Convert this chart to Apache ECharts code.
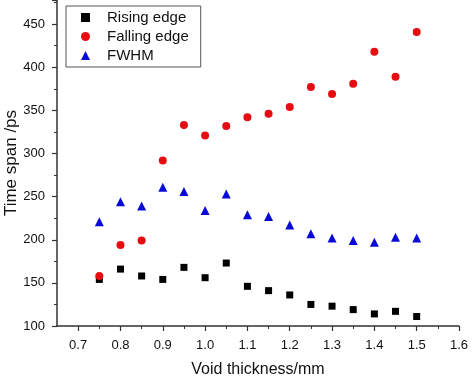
<!DOCTYPE html>
<html>
<head>
    <meta charset="utf-8" />
    <title>Time span vs void thickness</title>
    <script src="https://cdn.jsdelivr.net/npm/echarts@6/dist/echarts.min.js"></script>
    <style>
        body { margin: 0; background: #fff; }
        #main { width: 474px; height: 377px; }
    </style>
</head>
<body>
<div id="main"></div>
<script type="text/javascript">
    // void thickness (mm)
    var thickness = [0.75, 0.8, 0.85, 0.9, 0.95, 1.0, 1.05, 1.1, 1.15, 1.2, 1.25, 1.3, 1.35, 1.4, 1.45, 1.5];
    var risingEdge = [154, 166, 158, 154, 168, 156, 173, 146, 141, 136, 125, 123, 119, 114, 117, 111];
    var fallingEdge = [158, 194, 199, 292, 333, 321, 332, 342, 346, 354, 377, 369, 381, 418, 389, 441];
    var fwhm = [221, 244, 239, 261, 256, 234, 253, 229, 227, 217, 207, 202, 199, 197, 203, 202];
    var xTicks = [0.7, 0.8, 0.9, 1.0, 1.1, 1.2, 1.3, 1.4, 1.5, 1.6];
    var xMinorTicks = [0.75, 0.85, 0.95, 1.05, 1.15, 1.25, 1.35, 1.45, 1.55];

    function pairs(vals) {
        return thickness.map(function (x, i) { return [x, vals[i]]; });
    }

    var myChart = echarts.init(document.getElementById('main'));
    var font = 'Liberation Sans, Arial, sans-serif';
    var axisColor = '#333';

    var option = {
        backgroundColor: '#fff',
        animation: false,
        textStyle: { fontFamily: font },
        grid: { left: 57, right: 15, top: 0, bottom: 51, containLabel: false, outerBoundsMode: 'none' },
        legend: {
            orient: 'vertical',
            left: 66,
            top: 6,
            padding: [4, 12, 4, 15],
            itemGap: 4,
            itemWidth: 9,
            itemHeight: 9,
            borderColor: '#555',
            borderWidth: 1,
            textStyle: { fontSize: 15, color: '#111', lineHeight: 15, padding: [0, 0, 0, 12] },
            data: ['Rising edge', 'Falling edge', 'FWHM']
        },
        xAxis: [
            {
                type: 'value',
                min: 0.65,
                max: 1.6,
                name: 'Void thickness/mm',
                nameLocation: 'middle',
                nameGap: 36,
                nameTextStyle: { fontSize: 16, color: '#111' },
                splitLine: { show: false },
                axisLine: { lineStyle: { color: axisColor, width: 1.5 } },
                axisTick: { customValues: xTicks, length: 5, lineStyle: { color: axisColor, width: 1.2 } },
                axisLabel: {
                    customValues: xTicks,
                    fontSize: 13,
                    color: '#111',
                    margin: 13,
                    formatter: function (v) { return v.toFixed(1); }
                }
            },
            {
                type: 'value',
                min: 0.65,
                max: 1.6,
                position: 'bottom',
                splitLine: { show: false },
                axisLine: { show: false },
                axisTick: { customValues: xMinorTicks, length: 3, lineStyle: { color: axisColor, width: 1 } },
                axisLabel: { show: false }
            }
        ],
        yAxis: {
            type: 'value',
            min: 100,
            max: 478,
            interval: 50,
            name: 'Time span /ps',
            nameLocation: 'middle',
            nameGap: 37,
            nameMoveOverlap: false,
            nameTextStyle: { fontSize: 17, color: '#111' },
            splitLine: { show: false },
            axisLine: { show: true, lineStyle: { color: axisColor, width: 1.5 } },
            axisTick: { show: true, length: 5, lineStyle: { color: axisColor, width: 1.2 } },
            minorTick: { show: true, splitNumber: 2, length: 3, lineStyle: { color: axisColor } },
            axisLabel: { fontSize: 13, color: '#111', margin: 12, showMaxLabel: false }
        },
        series: [
            {
                name: 'Rising edge',
                type: 'scatter',
                symbol: 'rect',
                symbolSize: 7,
                itemStyle: { color: '#000', opacity: 1 },
                data: pairs(risingEdge)
            },
            {
                name: 'Falling edge',
                type: 'scatter',
                symbol: 'circle',
                symbolSize: 8,
                itemStyle: { color: '#e60d12', opacity: 1 },
                data: pairs(fallingEdge)
            },
            {
                name: 'FWHM',
                type: 'scatter',
                symbol: 'triangle',
                symbolSize: 9,
                itemStyle: { color: '#0a0ad8', opacity: 1 },
                data: pairs(fwhm)
            }
        ]
    };
    myChart.setOption(option);
</script>
</body>
</html>
